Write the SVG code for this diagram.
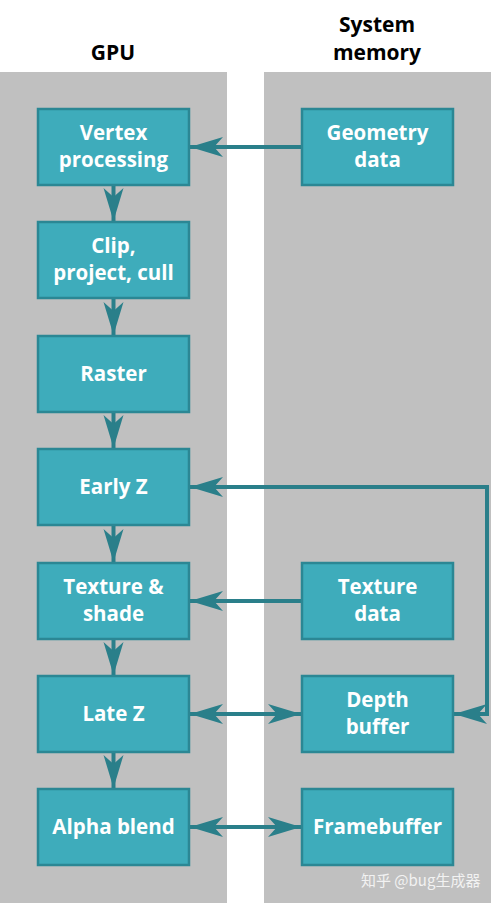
<svg xmlns="http://www.w3.org/2000/svg" width="491" height="903" viewBox="0 0 491 903">
<style>
.panel{fill:#c0c0c0}
.box{fill:#3eacbb;stroke:#2b8794;stroke-width:2.5}
.lbl{font-family:"Open Sans","Noto Sans",sans-serif;font-weight:bold;font-size:20.5px;fill:#ffffff;text-anchor:middle}
.hdr{font-family:"Open Sans","Noto Sans",sans-serif;font-weight:bold;font-size:21px;fill:#000000;text-anchor:middle}
.conn{fill:none;stroke:#2a7f8a;stroke-width:4}
</style>
<defs>
<marker id="ah" markerUnits="userSpaceOnUse" markerWidth="34" markerHeight="22" viewBox="0 0 34 22" refX="33" refY="11" orient="auto-start-reverse">
<path d="M33,11 L0,1 L9,11 L0,21 Z" fill="#2a7f8a"/>
</marker>
</defs>
<rect class="panel" x="0" y="72" width="227" height="831"/>
<rect class="panel" x="264" y="72" width="227" height="831"/>
<text class="hdr" x="113" y="60">GPU</text>
<text class="hdr" x="377" y="32">System</text>
<text class="hdr" x="377" y="60">memory</text>
<g id="connectors">
<line class="conn" x1="302" y1="147" x2="190" y2="147" marker-end="url(#ah)"/>
<line class="conn" x1="113.5" y1="186" x2="113.5" y2="221" marker-end="url(#ah)"/>
<line class="conn" x1="113.5" y1="299" x2="113.5" y2="335" marker-end="url(#ah)"/>
<line class="conn" x1="113.5" y1="413" x2="113.5" y2="448" marker-end="url(#ah)"/>
<line class="conn" x1="113.5" y1="526" x2="113.5" y2="562" marker-end="url(#ah)"/>
<line class="conn" x1="113.5" y1="640" x2="113.5" y2="675" marker-end="url(#ah)"/>
<line class="conn" x1="113.5" y1="753" x2="113.5" y2="788" marker-end="url(#ah)"/>
<line class="conn" x1="302" y1="601" x2="190" y2="601" marker-end="url(#ah)"/>
<line class="conn" x1="190" y1="714" x2="301" y2="714" marker-start="url(#ah)" marker-end="url(#ah)"/>
<line class="conn" x1="190" y1="827" x2="301" y2="827" marker-start="url(#ah)" marker-end="url(#ah)"/>
<polyline class="conn" points="454,714 487,714 487,487 190,487" marker-start="url(#ah)" marker-end="url(#ah)"/>
</g>
<g id="vertex"><rect class="box" x="38" y="109" width="151" height="76"/><text class="lbl" x="113.5" y="140">Vertex</text><text class="lbl" x="113.5" y="167">processing</text></g>
<g id="clip"><rect class="box" x="38" y="222" width="151" height="76"/><text class="lbl" x="113.5" y="253">Clip,</text><text class="lbl" x="113.5" y="280">project, cull</text></g>
<g id="raster"><rect class="box" x="38" y="336" width="151" height="76"/><text class="lbl" x="113.5" y="381">Raster</text></g>
<g id="earlyz"><rect class="box" x="38" y="449" width="151" height="76"/><text class="lbl" x="113.5" y="494">Early Z</text></g>
<g id="texshade"><rect class="box" x="38" y="563" width="151" height="76"/><text class="lbl" x="113.5" y="594">Texture &amp;</text><text class="lbl" x="113.5" y="621">shade</text></g>
<g id="latez"><rect class="box" x="38" y="676" width="151" height="76"/><text class="lbl" x="113.5" y="721">Late Z</text></g>
<g id="alpha"><rect class="box" x="38" y="789" width="151" height="76"/><text class="lbl" x="113.5" y="834">Alpha blend</text></g>
<g id="geometry"><rect class="box" x="302" y="109" width="151" height="76"/><text class="lbl" x="377.5" y="140">Geometry</text><text class="lbl" x="377.5" y="167">data</text></g>
<g id="texdata"><rect class="box" x="302" y="563" width="151" height="76"/><text class="lbl" x="377.5" y="594">Texture</text><text class="lbl" x="377.5" y="621">data</text></g>
<g id="depth"><rect class="box" x="302" y="676" width="151" height="76"/><text class="lbl" x="377.5" y="707">Depth</text><text class="lbl" x="377.5" y="734">buffer</text></g>
<g id="framebuffer"><rect class="box" x="302" y="789" width="151" height="76"/><text class="lbl" x="377.5" y="834">Framebuffer</text></g>
<text x="361" y="886" font-family="'Noto Sans CJK SC',sans-serif" font-size="15" fill="#f2f2f2">知乎 @bug生成器</text>
</svg>
